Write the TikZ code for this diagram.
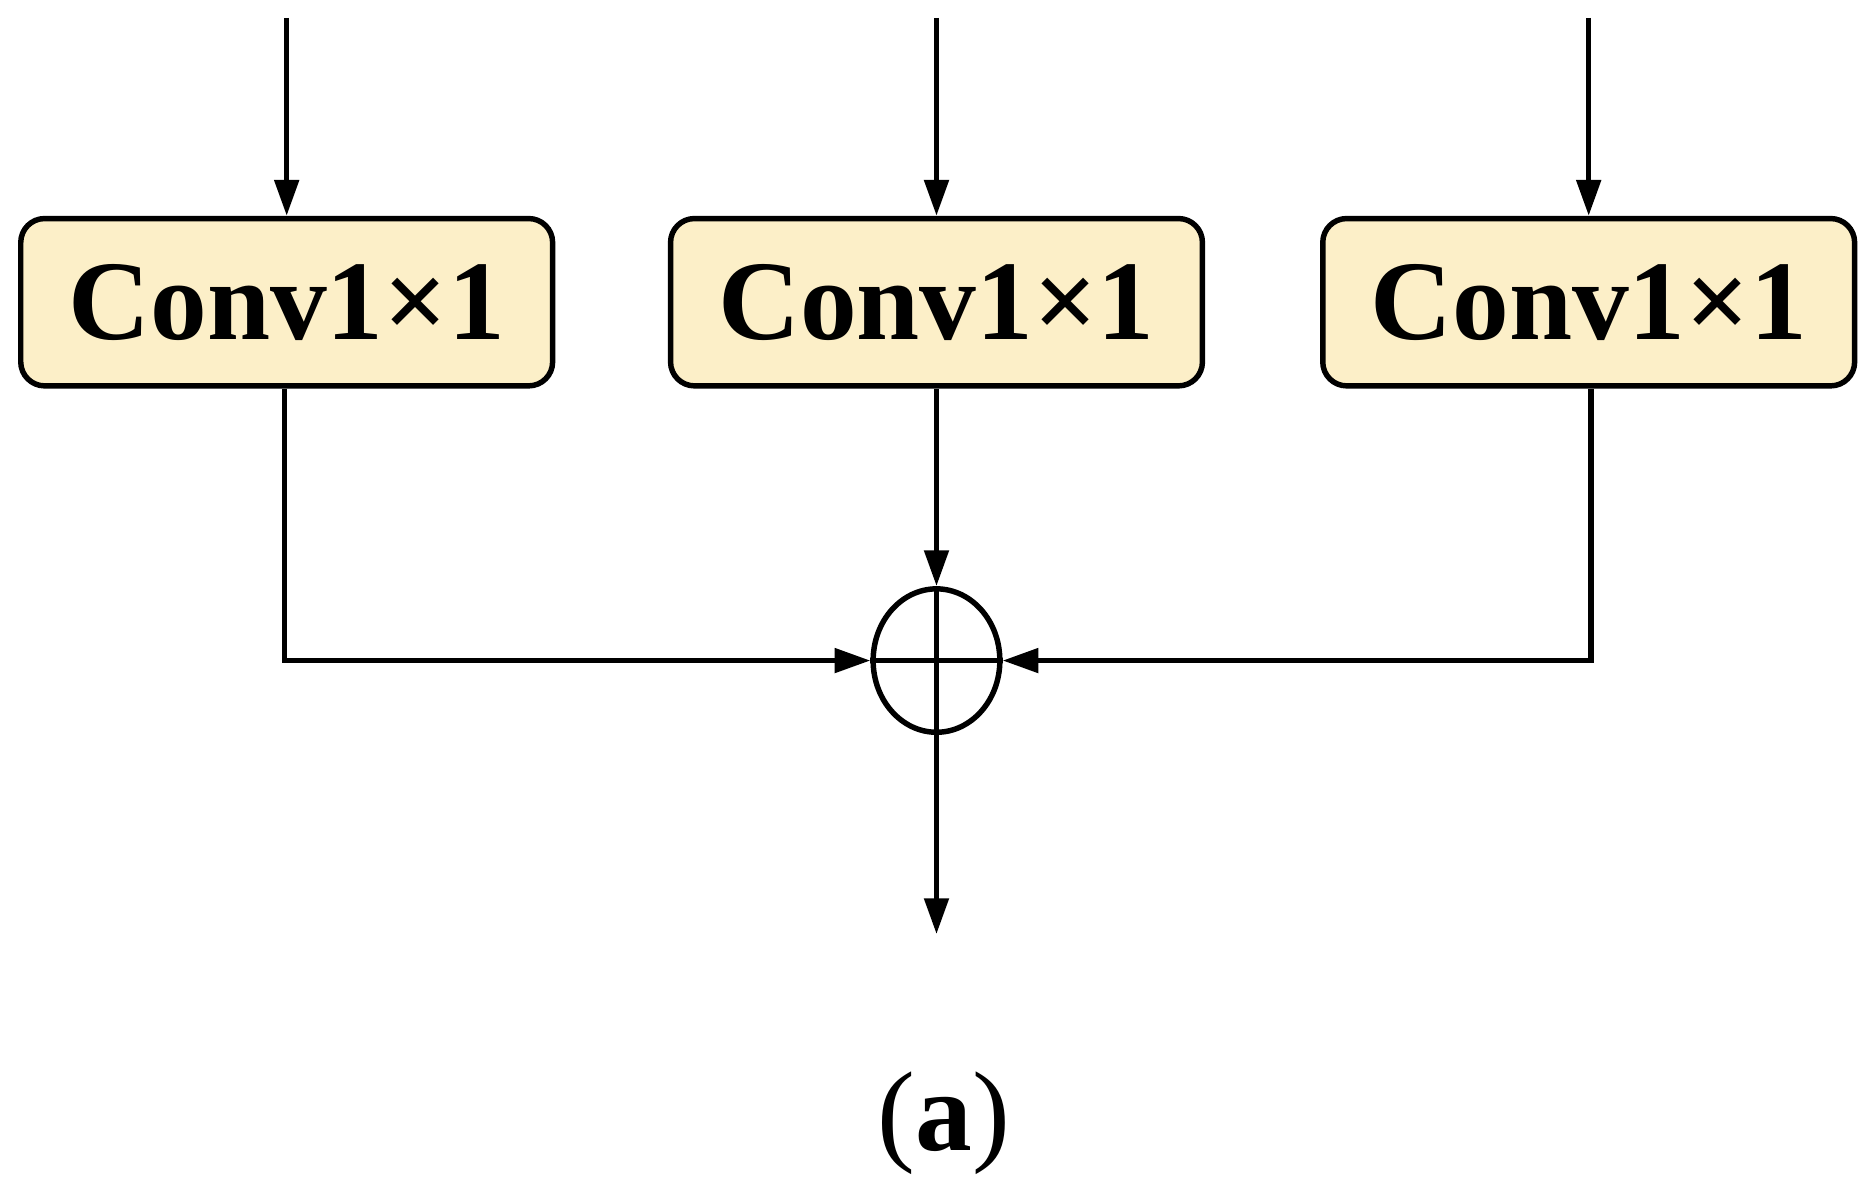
\documentclass[tikz,border=0pt]{standalone}
\usepackage{fontspec}
\setmainfont{Liberation Serif}
\usetikzlibrary{arrows.meta,shapes.geometric}
\definecolor{boxfill}{HTML}{FCEFC8}
\begin{document}
\begin{tikzpicture}[x=0.01cm,y=-0.01cm,
  conv/.style={draw,line width=1.3pt,fill=boxfill,rounded corners=0.2cm,minimum width=4.45cm,minimum height=1.4cm,font=\fontsize{27}{32}\selectfont\bfseries},
  arr/.style={line width=1.3pt,-{Triangle[length=0.3cm,width=0.2cm]}},
  ln/.style={line width=1.3pt}]
\useasboundingbox (0,0) rectangle (1568,994);
\node[conv] (c1) at (240,253) {Conv1×1};
\node[conv] (c2) at (784,253) {Conv1×1};
\node[conv] (c3) at (1330,253) {Conv1×1};
\coordinate (i1) at (240,15);
\coordinate (i2) at (784,15);
\coordinate (i3) at (1330,15);
\draw[arr] (i1) -- (c1.north);
\draw[arr] (i2) -- (c2.north);
\draw[arr] (i3) -- (c3.north);
\node[draw,ellipse,line width=1.3pt,minimum width=1.06cm,minimum height=1.2cm,inner sep=0pt] (s) at (784,553) {};
\draw[ln] (s.north) -- (s.south) (s.west) -- (s.east);
\draw[arr] (c2.south) -- (s.north);
\draw[arr] (c1.south -| 238,0) -- (238,553) -- (s.west);
\draw[arr] (c3.south -| 1332,0) -- (1332,553) -- (s.east);
\coordinate (o) at (784,782);
\draw[arr] (s.south) -- (o);
\node[font=\fontsize{27}{32}\selectfont] (lab) at (790,940) {(\textbf{a})};
\end{tikzpicture}
\end{document}
